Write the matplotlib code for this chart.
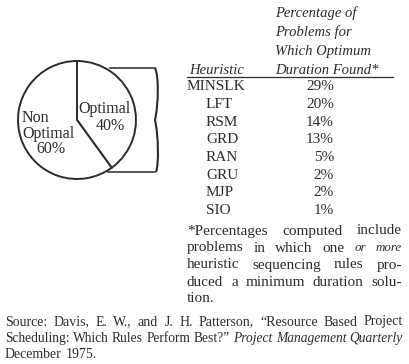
import matplotlib.pyplot as plt
from matplotlib.path import Path
from matplotlib.patches import PathPatch
from matplotlib.lines import Line2D

W, H = 410, 364

pie_values = [40, 60]
pie_names = ["Optimal", "Non Optimal"]

heuristics = ["MINSLK", "LFT", "RSM", "GRD", "RAN", "GRU", "MJP", "SIO"]
found_pct = [29, 20, 14, 13, 5, 2, 2, 1]

header = ["Percentage of", "Problems for", "Which Optimum", "Duration Found*"]

# (word, italic) per line, justified
foot_lines = [
    [("*Percentages", 0), ("computed", 0), ("include", 0)],
    [("problems", 0), ("in", 0), ("which", 0), ("one", 0), ("or", 1), ("more", 1)],
    [("heuristic", 0), ("sequencing", 0), ("rules", 0), ("pro-", 0)],
    [("duced", 0), ("a", 0), ("minimum", 0), ("duration", 0), ("solu-", 0)],
    [("tion.", 0)],
]
source_lines = [
    [("Source:", 0), ("Davis,", 0), ("E.", 0), ("W.,", 0), ("and", 0), ("J.", 0), ("H.", 0),
     ("Patterson,", 0), ("\u201cResource", 0), ("Based", 0), ("Project", 0)],
    [("Scheduling:", 0), ("Which", 0), ("Rules", 0), ("Perform", 0), ("Best?\u201d", 0),
     ("Project", 1), ("Management", 1), ("Quarterly", 1)],
    [("December", 0), ("1975.", 0)],
]

plt.rcParams["font.family"] = ["Liberation Serif", "DejaVu Serif"]
ink = "#2b2b2b"

fig = plt.figure(figsize=(W / 100, H / 100), dpi=100)
fig.patch.set_facecolor("white")


def fx(x):
    return x / W


def fy(y):
    return 1 - y / H


def txt(x, y, s, **kw):
    kw.setdefault("color", ink)
    kw.setdefault("va", "center")
    return fig.text(fx(x), fy(y), s, **kw)


# pie
cx, cy, r = 77, 120, 59
ax = fig.add_axes([fx(cx - r), fy(cy + r), 2 * r / W, 2 * r / H])
ax.pie(pie_values, startangle=90, counterclock=False, colors=["white", "white"],
       wedgeprops=dict(edgecolor=ink, linewidth=1.4))
ax.set_xlim(-1, 1)
ax.set_ylim(-1, 1)
for p in ax.patches:
    p.set_clip_on(False)

txt(105, 109, "Optimal", ha="center", fontsize=11.5)
txt(110, 126, f"{pie_values[0]}%", ha="center", fontsize=11.5)
txt(22, 118, "Non", ha="left", fontsize=11.5)
txt(49, 134, "Optimal", ha="center", fontsize=11.5)
txt(51, 149, f"{pie_values[1]}%", ha="center", fontsize=11.5)

# brace connecting pie to table
fig.add_artist(Line2D([fx(110), fx(155)], [fy(68), fy(68)], color=ink, lw=1.1))
fig.add_artist(Line2D([fx(108), fx(155)], [fy(172), fy(172)], color=ink, lw=1.1))
verts = [(155, 68), (159, 76), (158.5, 104), (155, 120),
         (158.5, 136), (159, 164), (156, 172)]
codes = [Path.MOVETO, Path.CURVE4, Path.CURVE4, Path.CURVE4,
         Path.CURVE4, Path.CURVE4, Path.CURVE4]
brace = Path([(fx(x), fy(y)) for x, y in verts], codes)
fig.add_artist(PathPatch(brace, fill=False, edgecolor=ink, lw=1.5, transform=fig.transFigure))

# table header
for i, s in enumerate(header):
    txt(275, 13 + i * 19, s, ha="left", fontsize=10.5, style="italic")
txt(189, 70, "Heuristic", ha="left", fontsize=10.5, style="italic")
fig.add_artist(Line2D([fx(187), fx(393)], [fy(77), fy(77)], color=ink, lw=0.9))

# table rows
for i, (name, pct) in enumerate(zip(heuristics, found_pct)):
    y = 87 + i * 17.6
    txt(187 if i == 0 else 206, y, name, ha="left", fontsize=11)
    txt(334, y, f"{pct}%", ha="right", fontsize=11)

renderer = fig.canvas.get_renderer()


def justify(lines, x0, x1, y0, dy, fs, small_italic=False):
    for li, words in enumerate(lines):
        y = y0 + li * dy
        size0 = fs
        while True:
            arts = []
            for w, it in words:
                size = size0 * 0.85 if (it and small_italic) else size0
                arts.append(txt(x0, y, w, ha="left", fontsize=size,
                                style="italic" if it else "normal"))
            widths = [a.get_window_extent(renderer).width for a in arts]
            if li == len(lines) - 1:
                gap = size0 * 0.4
            else:
                gap = (x1 - x0 - sum(widths)) / max(len(arts) - 1, 1)
            if gap >= 3 or size0 < 7:
                break
            for a in arts:
                a.remove()
            size0 -= 0.25
        x = x0
        for a, w in zip(arts, widths):
            a.set_x(fx(x))
            x += w + gap


justify(foot_lines, 187, 402, 231, 17, 11, small_italic=True)
justify(source_lines, 5, 403, 322, 16.5, 10)

fig.savefig("out.png", dpi=100, facecolor="white")
